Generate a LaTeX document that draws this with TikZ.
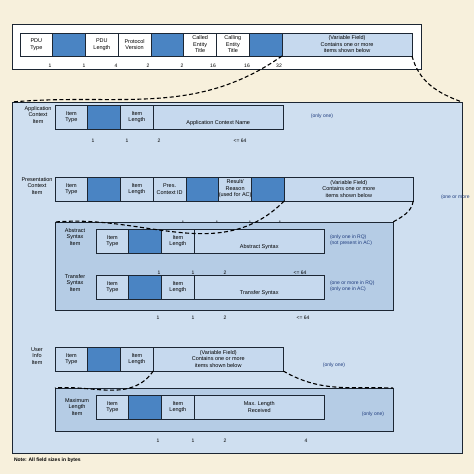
\documentclass[tikz,border=0pt]{standalone}
\usepackage{fontspec}
\setmainfont{Liberation Sans}
\usetikzlibrary{positioning}

\definecolor{cream}{HTML}{F7F0DC}
\definecolor{edge}{HTML}{1C2633}
\definecolor{paleblue}{HTML}{CFDFF0}
\definecolor{midblue}{HTML}{B5CCE5}
\definecolor{fieldblue}{HTML}{C6D9EE}
\definecolor{darkblue}{HTML}{4A84C3}
\definecolor{notecol}{HTML}{1F3C7E}

\begin{document}
\begin{tikzpicture}[x=1pt,y=-1pt,
  every node/.style={font=\fontsize{5.5}{6.5}\selectfont, inner sep=0pt, outer sep=0pt},
  box/.style={draw=edge, line width=1pt},
  field/.style={draw=edge, line width=0.9pt, fill=fieldblue, minimum width=32.75pt, minimum height=24pt, align=center},
  toprow/.style={field, fill=white, minimum height=23pt},
  gap/.style={field, fill=darkblue},
  low/.style={text height=16pt, text depth=2pt},
  itemname/.style={align=center},
  size/.style={font=\fontsize{5}{6}\selectfont},
  note/.style={text=notecol, align=left, font=\fontsize{5}{6}\selectfont},
  link/.style={draw=black, line width=1.1pt, dash pattern=on 4pt off 2.5pt}]

% Background
\fill[cream] (0,0) rectangle (474,474);
\useasboundingbox (0,0) rectangle (474,474);

% PDU header
\node[box, fill=white, minimum width=409pt, minimum height=45pt, anchor=north west] (pdubox) at (12,24) {};
\node[toprow, anchor=north west] (pdutype) at (20,33) {PDU\\Type};
\node[gap, minimum height=23pt, right=0pt of pdutype] (rsv1) {};
\node[toprow, right=0pt of rsv1] (pdulen) {PDU\\Length};
\node[toprow, right=0pt of pdulen] (protver) {Protocol\\Version};
\node[gap, minimum height=23pt, right=0pt of protver] (rsv2) {};
\node[toprow, right=0pt of rsv2] (called) {Called\\Entity\\Title};
\node[toprow, right=0pt of called] (calling) {Calling\\Entity\\Title};
\node[gap, minimum height=23pt, right=0pt of calling] (rsv3) {};
\node[toprow, fill=fieldblue, minimum width=130pt, right=0pt of rsv3] (pduvar) {(Variable Field)\\Contains one or more\\items shown below};

% Header sizes
\foreach \x/\n [count=\i] in {50/1,84/1,116/4,148/2,182/2,213/16,247/16,279/32}
  \node[size] (topsz\i) at (\x,66) {\n};

% Items area
\node[box, fill=paleblue, minimum width=450pt, minimum height=351pt, anchor=north west] (itembox) at (12,102) {};

% Application context item
\node[itemname] (appname) at (38,115) {Application\\Context\\Item};
\node[field, anchor=north west] (apptype) at (55,105) {Item\\Type};
\node[gap, right=0pt of apptype] (apprsv) {};
\node[field, right=0pt of apprsv] (applen) {Item\\Length};
\node[field, low, minimum width=130pt, right=0pt of applen] (appctx) {Application Context Name};
\node[note] (appnote) at (322,116) {(only one)};
\foreach \x/\n [count=\i] in {93/1,127/1,159/2,240/{<= 64}}
  \node[size] (appsz\i) at (\x,141) {\n};

% Presentation context item
\node[itemname] (presname) at (37,186) {Presentation\\Context\\Item};
\node[field, anchor=north west] (prestype) at (55,177) {Item\\Type};
\node[gap, right=0pt of prestype] (presrsv1) {};
\node[field, right=0pt of presrsv1] (preslen) {Item\\Length};
\node[field, right=0pt of preslen] (presid) {Pres.\\Context ID};
\node[gap, right=0pt of presid] (presrsv2) {};
\node[field, right=0pt of presrsv2] (presres) {Result/\\Reason\\(used for AC)};
\node[gap, right=0pt of presres] (presrsv3) {};
\node[field, minimum width=129pt, right=0pt of presrsv3] (presvar) {(Variable Field)\\Contains one or more\\items shown below};
\node[note, anchor=west] (presnote) at (441,197) {(one or more};
\foreach \x [count=\i] in {183,217,250,280}
  \node[size] (pressz\i) at (\x,222.5) {1};

% Abstract / transfer syntax items
\node[box, fill=midblue, minimum width=338pt, minimum height=88pt, anchor=north west] (syntaxbox) at (55,222) {};
\node[itemname] (absname) at (75,237) {Abstract\\Syntax\\Item};
\node[field, anchor=north west] (abstype) at (96,229) {Item\\Type};
\node[gap, right=0pt of abstype] (absrsv) {};
\node[field, right=0pt of absrsv] (abslen) {Item\\Length};
\node[field, low, minimum width=130pt, right=0pt of abslen] (abssyn) {Abstract Syntax};
\node[note, anchor=west] (absnote) at (330,240.5) {(only one in RQ)\\(not present in AC)};
\foreach \x/\n [count=\i] in {159/1,193/1,225/2,300/{<= 64}}
  \node[size] (abssz\i) at (\x,273) {\n};

\node[itemname] (trnname) at (75,283) {Transfer\\Syntax\\Item};
\node[field, anchor=north west] (trntype) at (96,275) {Item\\Type};
\node[gap, right=0pt of trntype] (trnrsv) {};
\node[field, right=0pt of trnrsv] (trnlen) {Item\\Length};
\node[field, low, minimum width=130pt, right=0pt of trnlen] (trnsyn) {Transfer Syntax};
\node[note, anchor=west] (trnnote) at (330,286) {(one or more in RQ)\\(only one in AC)};
\foreach \x/\n [count=\i] in {158/1,193/1,225/2,303/{<= 64}}
  \node[size] (trnsz\i) at (\x,318) {\n};

% User information item
\node[itemname] (usrname) at (37,356) {User\\Info\\Item};
\node[field, anchor=north west] (usrtype) at (55,347) {Item\\Type};
\node[gap, right=0pt of usrtype] (usrrsv) {};
\node[field, right=0pt of usrrsv] (usrlen) {Item\\Length};
\node[field, minimum width=130pt, right=0pt of usrlen] (usrvar) {(Variable Field)\\Contains one or more\\items shown below};
\node[note] (usrnote) at (334,365) {(only one)};

% Maximum length item
\node[box, fill=midblue, minimum width=338pt, minimum height=43pt, anchor=north west] (maxbox) at (55,388) {};
\node[itemname] (maxname) at (77,407) {Maximum\\Length\\Item};
\node[field, anchor=north west] (maxtype) at (96,395) {Item\\Type};
\node[gap, right=0pt of maxtype] (maxrsv) {};
\node[field, right=0pt of maxrsv] (maxlen) {Item\\Length};
\node[field, minimum width=130pt, right=0pt of maxlen] (maxrecv) {Max. Length\\Received};
\node[note] (maxnote) at (373,414) {(only one)};
\foreach \x/\n [count=\i] in {158/1,193/1,225/2,306/4}
  \node[size] (maxsz\i) at (\x,441) {\n};

% Footnote
\node[anchor=west, font=\fontsize{5}{6}\selectfont\bfseries] (footnote) at (14,460) {Note: All field sizes in bytes};

% Expansion links
\draw[link] (rsv3.south east) to[out=215, in=5] (itembox.north west);
\draw[link] (pduvar.south east) to[out=285, in=160] (itembox.north east);
\draw[link] (presrsv3.south east) to[out=225, in=5] (syntaxbox.north west);
\draw[link] (presvar.south east) to[out=260, in=30] (syntaxbox.north east);
\draw[link] (usrlen.south east) to[out=235, in=5] (maxbox.north west);
\draw[link] (usrvar.south east) to[out=330, in=178] (maxbox.north east);
\end{tikzpicture}
\end{document}
